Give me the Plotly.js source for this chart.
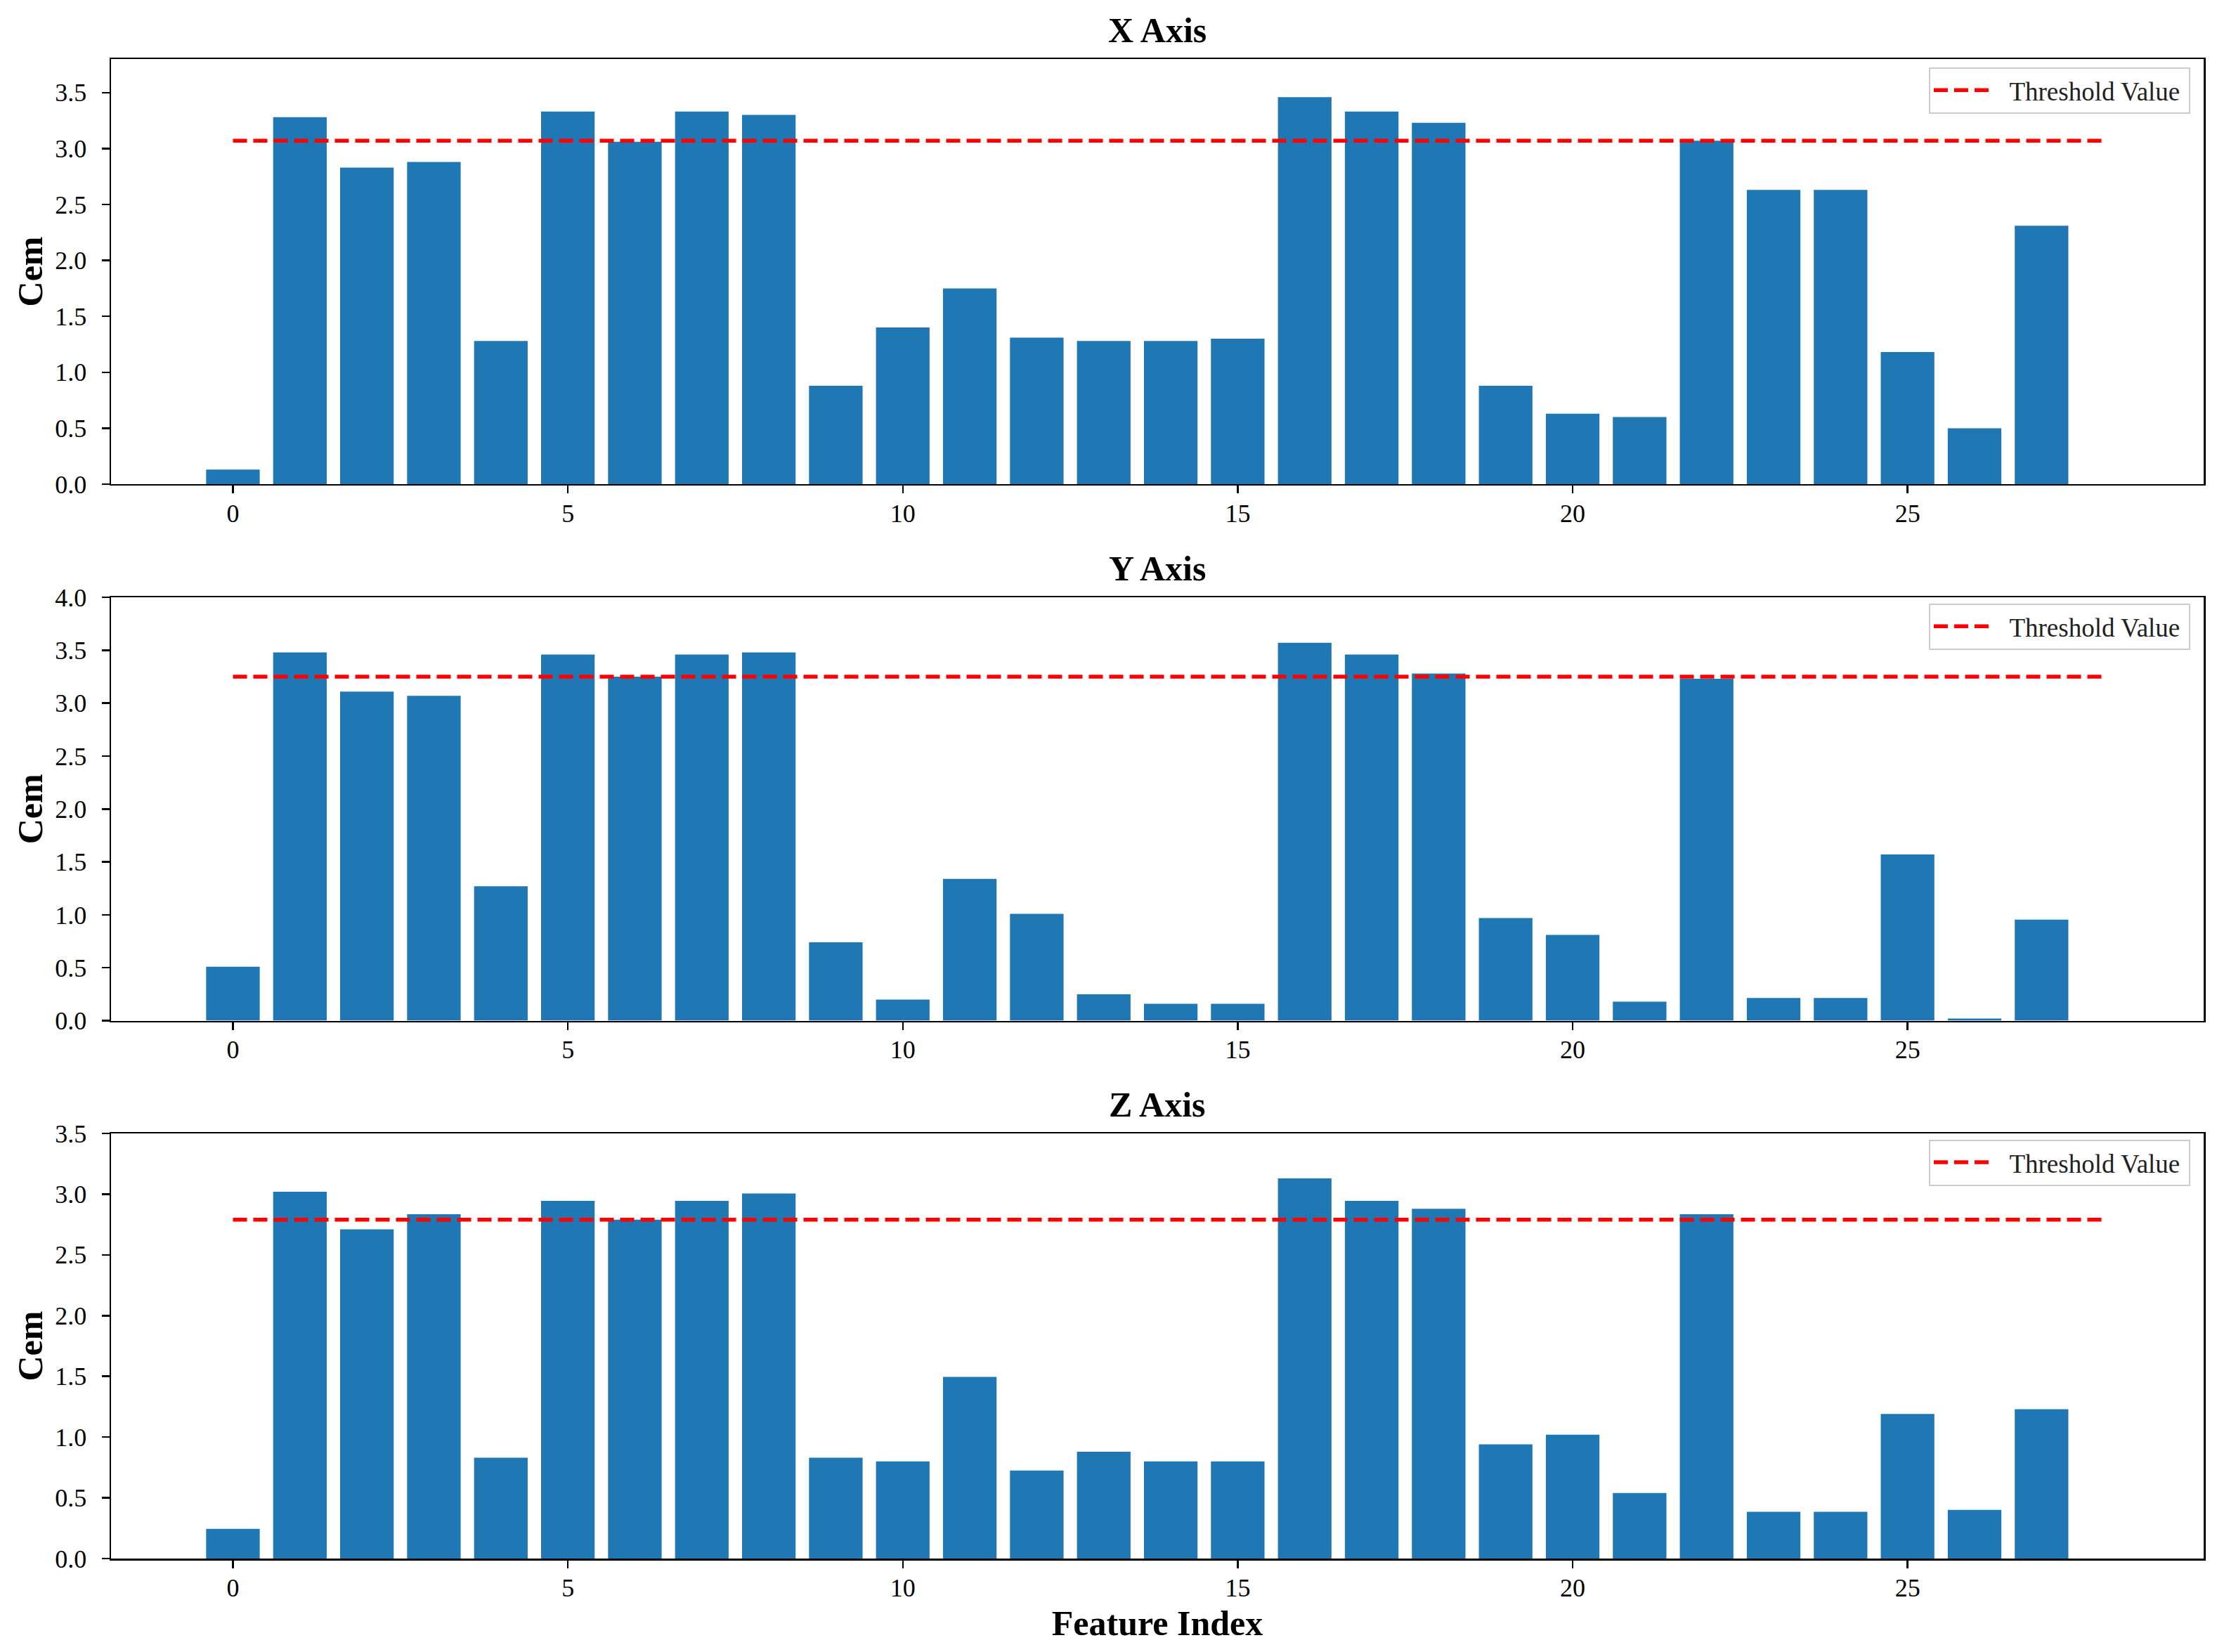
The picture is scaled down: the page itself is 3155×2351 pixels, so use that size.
<!DOCTYPE html>
<html>
<head>
<meta charset="utf-8">
<script src="https://cdn.plot.ly/plotly-3.0.1.min.js"></script>
<style>html,body{margin:0;padding:0;background:#fff;}#chart{width:3155px;height:2351px;}</style>
</head>
<body>
<div id="chart"></div>
<script>
// ---- data ----
const featureIndex = [0,1,2,3,4,5,6,7,8,9,10,11,12,13,14,15,16,17,18,19,20,21,22,23,24,25,26,27];
const xAxisCem = [0.13,3.28,2.83,2.88,1.28,3.33,3.06,3.33,3.30,0.88,1.40,1.75,1.31,1.28,1.28,1.30,3.46,3.33,3.23,0.88,0.63,0.60,3.07,2.63,2.63,1.18,0.50,2.31];
const yAxisCem = [0.51,3.48,3.11,3.07,1.27,3.46,3.25,3.46,3.48,0.74,0.20,1.34,1.01,0.25,0.16,0.16,3.57,3.46,3.28,0.97,0.81,0.18,3.23,0.215,0.215,1.57,0.02,0.955];
const zAxisCem = [0.245,3.02,2.71,2.835,0.83,2.945,2.79,2.945,3.005,0.83,0.80,1.495,0.725,0.88,0.80,0.80,3.13,2.945,2.88,0.94,1.02,0.54,2.835,0.385,0.385,1.19,0.40,1.23];
const panelTitles = ["X Axis", "Y Axis", "Z Axis"];
const thresholds = [3.07, 3.25, 2.79];
const thresholdSpan = [0, 27.92];
const yMax = [3.8, 4.0, 3.5];
const xTicks = [0,5,10,15,20,25];
const series = [xAxisCem, yAxisCem, zAxisCem];

// ---- styling ----
const FONT = "Liberation Serif, Times New Roman, serif";
const BAR = "#1f77b4";
const W = 3155, H = 2351;
const M = {l:158, r:19, t:84, b:133};
const domains = [[0.7165,1.0],[0.3587,0.641],[0.0,0.2835]];
const legendY = [0.9945, 0.637, 0.2795];

const traces = [];
const layout = {
  width: W, height: H,
  margin: M,
  paper_bgcolor: "#ffffff",
  plot_bgcolor: "#ffffff",
  font: {family: FONT, size: 36, color: "#000"},
  showlegend: true,
  annotations: []
};

series.forEach((vals, i) => {
  const n = i === 0 ? "" : String(i + 1);
  const xa = "x" + n, ya = "y" + n;
  const legName = i === 0 ? "legend" : "legend" + (i + 1);
  traces.push({
    type: "bar", x: featureIndex, y: vals, xaxis: xa, yaxis: ya,
    width: 0.8, marker: {color: BAR, line: {width: 0}}, showlegend: false,
    hoverinfo: "x+y"
  });
  traces.push({
    type: "scatter", mode: "lines", x: thresholdSpan, y: [thresholds[i], thresholds[i]],
    xaxis: xa, yaxis: ya, name: "\u2002Threshold Value\u2009", legend: legName,
    line: {color: "#ff0000", width: 5.5, dash: "20px,9px"}
  });
  const axCommon = {
    showline: true, linecolor: "#000", linewidth: 2.5, mirror: true,
    ticks: "outside", ticklen: 11, tickwidth: 2.5, tickcolor: "#000",
    showgrid: false, zeroline: false, automargin: false,
    tickfont: {family: FONT, size: 36, color: "#000"}
  };
  layout["xaxis" + n] = Object.assign({}, axCommon, {
    domain: [0, 1], anchor: ya, range: [-1.82, 29.42],
    tickmode: "array", tickvals: xTicks, ticktext: xTicks.map(String),
    ticklabelstandoff: -3
  });
  if (i === 2) {
    layout["xaxis" + n].title = {text: "<b>Feature Index</b>", font: {family: FONT, size: 50, color: "#000"}, standoff: 14};
  }
  layout["yaxis" + n] = Object.assign({}, axCommon, {
    domain: domains[i], anchor: xa, range: [0, yMax[i]],
    dtick: 0.5, tick0: 0, tickformat: ".1f", ticklabelstandoff: 14,
    title: {text: "<b>Cem</b>", font: {family: FONT, size: 50, color: "#000"}, standoff: 2}
  });
  layout[legName] = {
    x: 0.9936, xanchor: "right", y: legendY[i], yanchor: "top",
    xref: "paper", yref: "paper",
    bgcolor: "rgba(255,255,255,0.8)", bordercolor: "#cccccc", borderwidth: 2,
    font: {family: FONT, size: 37, color: "#222"}, itemwidth: 84
  };
  layout.annotations.push({
    text: "<b>" + panelTitles[i] + "</b>", xref: xa + " domain", yref: ya + " domain",
    x: 0.5, y: 1, yanchor: "middle", xanchor: "center", yshift: 41, showarrow: false,
    font: {family: FONT, size: 50, color: "#000"}
  });
});

Plotly.newPlot("chart", traces, layout, {staticPlot: true});
</script>
</body>
</html>
